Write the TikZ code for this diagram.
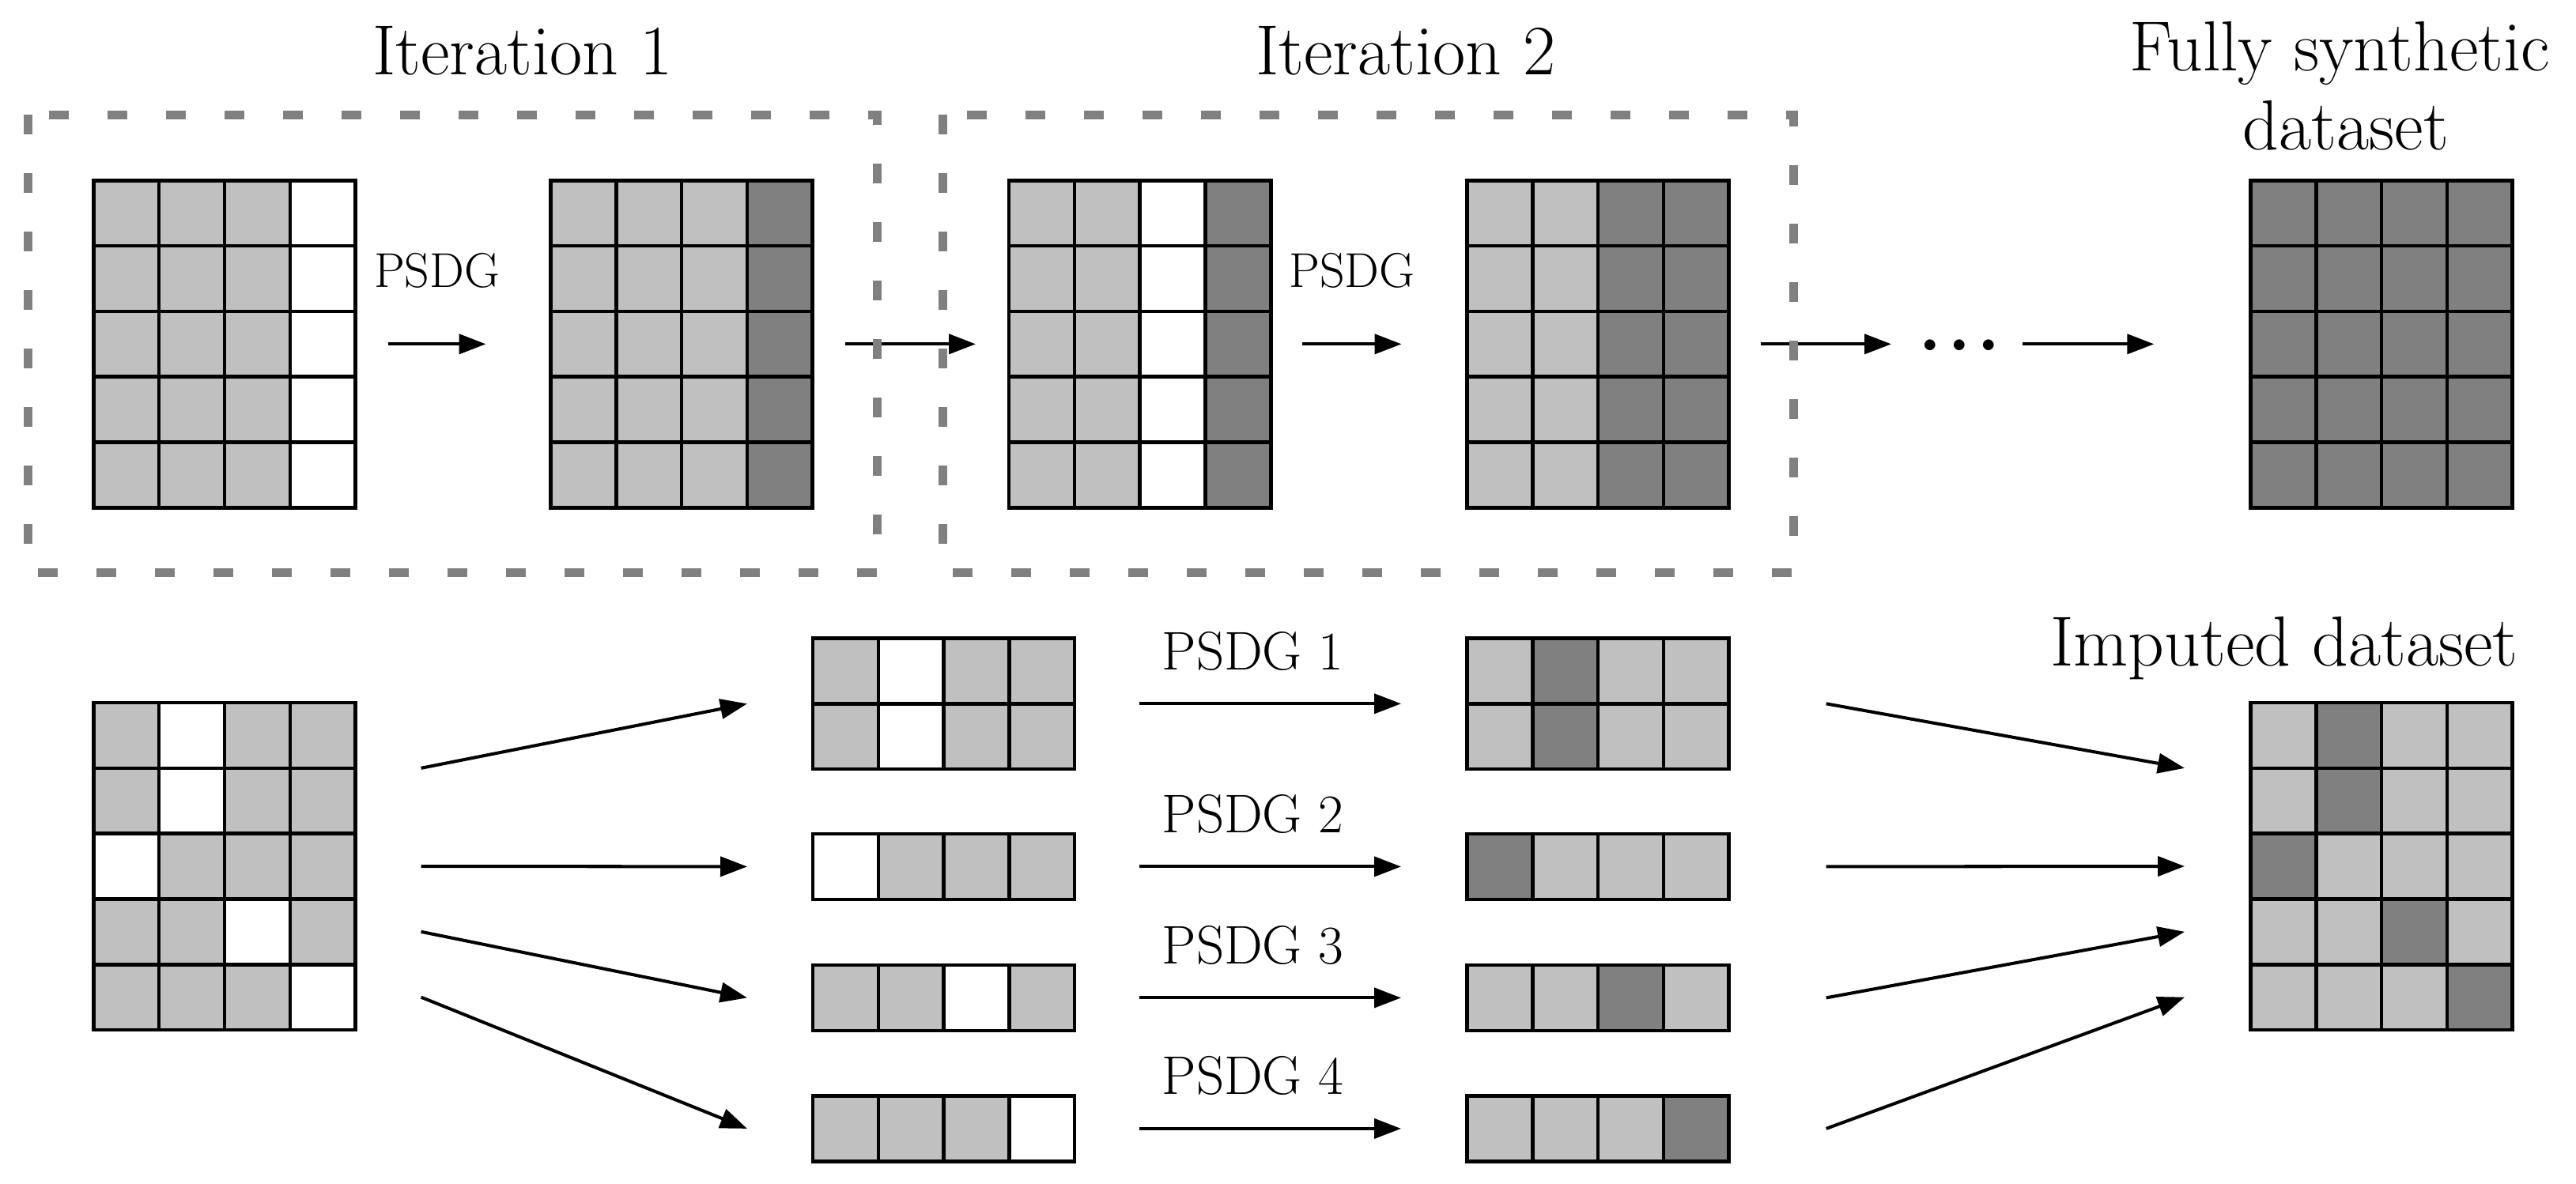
\documentclass[tikz,border=0pt]{standalone}
\usepackage{tikz}
\usetikzlibrary{calc,arrows.meta}

\definecolor{obs}{HTML}{C0C0C0}
\definecolor{syn}{HTML}{808080}
\colorlet{mis}{white}

\newcommand{\cellw}{0.828}
% #1 name, #2 top left corner, #3 rows of cell colours
\newcommand{\datagrid}[3]{%
  \foreach \cells [count=\ri] in {#3} {
    \foreach \fillc [count=\ki] in \cells {
      \node[cell, fill=\fillc] (#1-\ri-\ki) at ($#2+({(\ki-1)*\cellw},{-(\ri-1)*\cellw})$) {};
    }
  }%
}

\tikzset{
  cell/.style={draw=black, line width=1.3pt, minimum size=0.828cm, inner sep=0pt, outer sep=0pt, anchor=north west},
  flow/.style={-{Triangle[length=0.34cm,width=0.25cm]}, line width=1.15pt},
  iterbox/.style={draw=syn, line width=3pt, dash pattern=on 0.25cm off 0.49cm},
  heading/.style={font=\fontsize{25.5}{30}\selectfont, inner sep=0pt, anchor=base},
  genlabel/.style={font=\fontsize{19.6}{23}\selectfont, inner sep=0pt, anchor=base},
  toplabel/.style={font=\fontsize{17.6}{21}\selectfont, inner sep=0pt, anchor=base},
  dotsym/.style={font=\fontsize{10}{10}\selectfont, inner sep=0pt, anchor=base},
}

\begin{document}
\begin{tikzpicture}
\useasboundingbox (0,0) rectangle (32.58,-14.97);

% fully synthetic, column by column
\datagrid{g1}{(1.184,-2.283)}{{obs,obs,obs,mis},{obs,obs,obs,mis},{obs,obs,obs,mis},{obs,obs,obs,mis},{obs,obs,obs,mis}}
\datagrid{g2}{(6.965,-2.283)}{{obs,obs,obs,syn},{obs,obs,obs,syn},{obs,obs,obs,syn},{obs,obs,obs,syn},{obs,obs,obs,syn}}
\datagrid{g3}{(12.76,-2.283)}{{obs,obs,mis,syn},{obs,obs,mis,syn},{obs,obs,mis,syn},{obs,obs,mis,syn},{obs,obs,mis,syn}}
\datagrid{g4}{(18.555,-2.283)}{{obs,obs,syn,syn},{obs,obs,syn,syn},{obs,obs,syn,syn},{obs,obs,syn,syn},{obs,obs,syn,syn}}
\datagrid{g5}{(28.465,-2.283)}{{syn,syn,syn,syn},{syn,syn,syn,syn},{syn,syn,syn,syn},{syn,syn,syn,syn},{syn,syn,syn,syn}}

\draw[flow] ($(g1-3-4.east)+(0.41,0)$) -- node[toplabel, yshift=0.718cm] {PSDG} ($(g2-3-1.west)+(-0.82,0)$);
\draw[flow] ($(g2-3-4.east)+(0.41,0)$) -- ($(g3-3-1.west)+(-0.42,0)$);
\draw[flow] ($(g3-3-4.east)+(0.40,0)$) -- node[toplabel, yshift=0.718cm] {PSDG} ($(g4-3-1.west)+(-0.83,0)$);
\path (g4-3-4.east) ++(2.913,-0.10) node[dotsym] (dots) {$\bullet\mkern6mu\bullet\mkern6mu\bullet$};
\draw[flow] ($(g4-3-4.east)+(0.40,0)$) -- ($(g4-3-4.east)+(2.053,0)$);
\draw[flow] ($(g4-3-4.east)+(3.709,0)$) -- ($(g5-3-1.west)+(-1.222,0)$);

\draw[iterbox] ($(g1-1-1.north west)+(-0.83,0.83)$) rectangle ($(g2-5-4.south east)+(0.82,-0.824)$);
\draw[iterbox] ($(g3-1-1.north west)+(-0.835,0.83)$) rectangle ($(g4-5-4.south east)+(0.82,-0.824)$);

\node[heading] (iter1) at (6.61,-0.945) {Iteration 1};
\node[heading] (iter2) at (17.78,-0.945) {Iteration 2};
\node[heading] (full1) at (29.59,-0.897) {Fully synthetic};
\node[heading] (full2) at (29.67,-1.89) {dataset};

% imputation, one missing pattern per generator
\datagrid{bg}{(1.184,-8.89)}{{obs,mis,obs,obs},{obs,mis,obs,obs},{mis,obs,obs,obs},{obs,obs,mis,obs},{obs,obs,obs,mis}}
\datagrid{s1}{(10.28,-8.075)}{{obs,mis,obs,obs},{obs,mis,obs,obs}}
\datagrid{s2}{(10.28,-10.55)}{{mis,obs,obs,obs}}
\datagrid{s3}{(10.28,-12.21)}{{obs,obs,mis,obs}}
\datagrid{s4}{(10.28,-13.865)}{{obs,obs,obs,mis}}
\datagrid{r1}{(18.555,-8.075)}{{obs,syn,obs,obs},{obs,syn,obs,obs}}
\datagrid{r2}{(18.555,-10.55)}{{syn,obs,obs,obs}}
\datagrid{r3}{(18.555,-12.21)}{{obs,obs,syn,obs}}
\datagrid{r4}{(18.555,-13.865)}{{obs,obs,obs,syn}}
\datagrid{imp}{(28.465,-8.89)}{{obs,syn,obs,obs},{obs,syn,obs,obs},{syn,obs,obs,obs},{obs,obs,syn,obs},{obs,obs,obs,syn}}

\draw[flow] ($(bg-1-4.south east)+(0.83,0)$) -- ($(s1-1-1.south west)+(-0.83,0)$);
\draw[flow] ($(bg-3-4.east)+(0.83,0)$) -- ($(s2-1-1.west)+(-0.83,0)$);
\draw[flow] ($(bg-4-4.east)+(0.83,0)$) -- ($(s3-1-1.west)+(-0.83,0)$);
\draw[flow] ($(bg-5-4.east)+(0.83,0)$) -- ($(s4-1-1.west)+(-0.83,0)$);

\draw[flow] ($(s1-1-4.south east)+(0.82,0)$) -- node[genlabel, xshift=-0.22cm, yshift=0.43cm] {PSDG 1} ($(r1-1-1.south west)+(-0.835,0)$);
\draw[flow] ($(s2-1-4.east)+(0.82,0)$) -- node[genlabel, xshift=-0.22cm, yshift=0.43cm] {PSDG 2} ($(r2-1-1.west)+(-0.835,0)$);
\draw[flow] ($(s3-1-4.east)+(0.82,0)$) -- node[genlabel, xshift=-0.22cm, yshift=0.43cm] {PSDG 3} ($(r3-1-1.west)+(-0.835,0)$);
\draw[flow] ($(s4-1-4.east)+(0.82,0)$) -- node[genlabel, xshift=-0.22cm, yshift=0.43cm] {PSDG 4} ($(r4-1-1.west)+(-0.835,0)$);

\draw[flow] ($(r1-1-4.south east)+(1.23,0)$) -- ($(imp-1-1.south west)+(-0.835,0)$);
\draw[flow] ($(r2-1-4.east)+(1.23,0)$) -- ($(imp-3-1.west)+(-0.835,0)$);
\draw[flow] ($(r3-1-4.east)+(1.23,0)$) -- ($(imp-4-1.west)+(-0.835,0)$);
\draw[flow] ($(r4-1-4.east)+(1.23,0)$) -- ($(imp-5-1.west)+(-0.835,0)$);

\node[heading] (imptxt) at (28.89,-8.423) {Imputed dataset};
\end{tikzpicture}
\end{document}
